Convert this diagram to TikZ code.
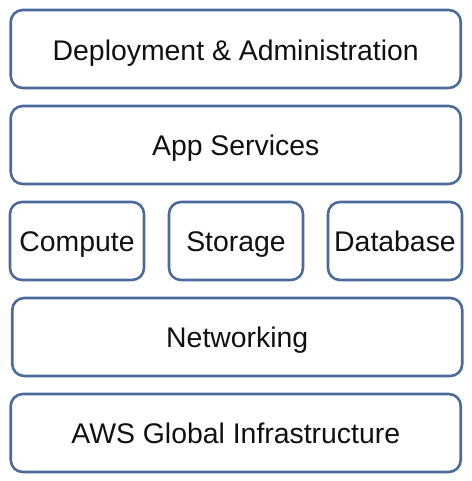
\documentclass[tikz,border=0pt]{standalone}
\usepackage{fontspec}
\setmainfont{Liberation Sans}
\usepackage{xcolor}
\definecolor{layerBlue}{HTML}{4C6A9B}
\definecolor{darkText}{HTML}{111111}
\usepackage{tikz}
\usetikzlibrary{
    positioning,
    calc
}
\tikzset{
    % Base style for all boxes
    layer base/.style={
        font=\fontsize{28.5}{32}\selectfont,
        align=center,
        text=darkText,
        rectangle,
        rounded corners=12bp,
        draw=layerBlue,
        line width=2.6bp,
        fill=white,
        minimum height=78bp,
        text height=23bp,
        text depth=3bp,
        inner sep=0pt,
        outer sep=0pt,
    },
    % Full width layer
    layer/.style={
        layer base,
        minimum width=450bp,
    },
    % Service box in the middle row
    service/.style={
        layer base,
        minimum width=134bp,
    },
}

\begin{document}
\begin{tikzpicture}[x=1bp, y=1bp, node distance=18bp]
    \useasboundingbox (0,0) rectangle (472,-481);

    \node (deploy) [layer, text height=25bp, text depth=1bp] at (235.75,-49) {Deployment \& Administration};
    \node (apps) [layer, below=of deploy] {App Services};
    \node (storage) [service, below=of apps.south, anchor=north, xshift=0.25bp] {Storage};
    \node (compute) [service, left=25bp of storage] {Compute};
    \node (database) [service, right=25bp of storage] {Database};
    \node (net) [layer, below=of storage.south -| apps.south, anchor=north, xshift=1.5bp] {Networking};
    \node (aws) [layer, below=of net.south -| apps.south, anchor=north] {AWS Global Infrastructure};
\end{tikzpicture}
\end{document}
